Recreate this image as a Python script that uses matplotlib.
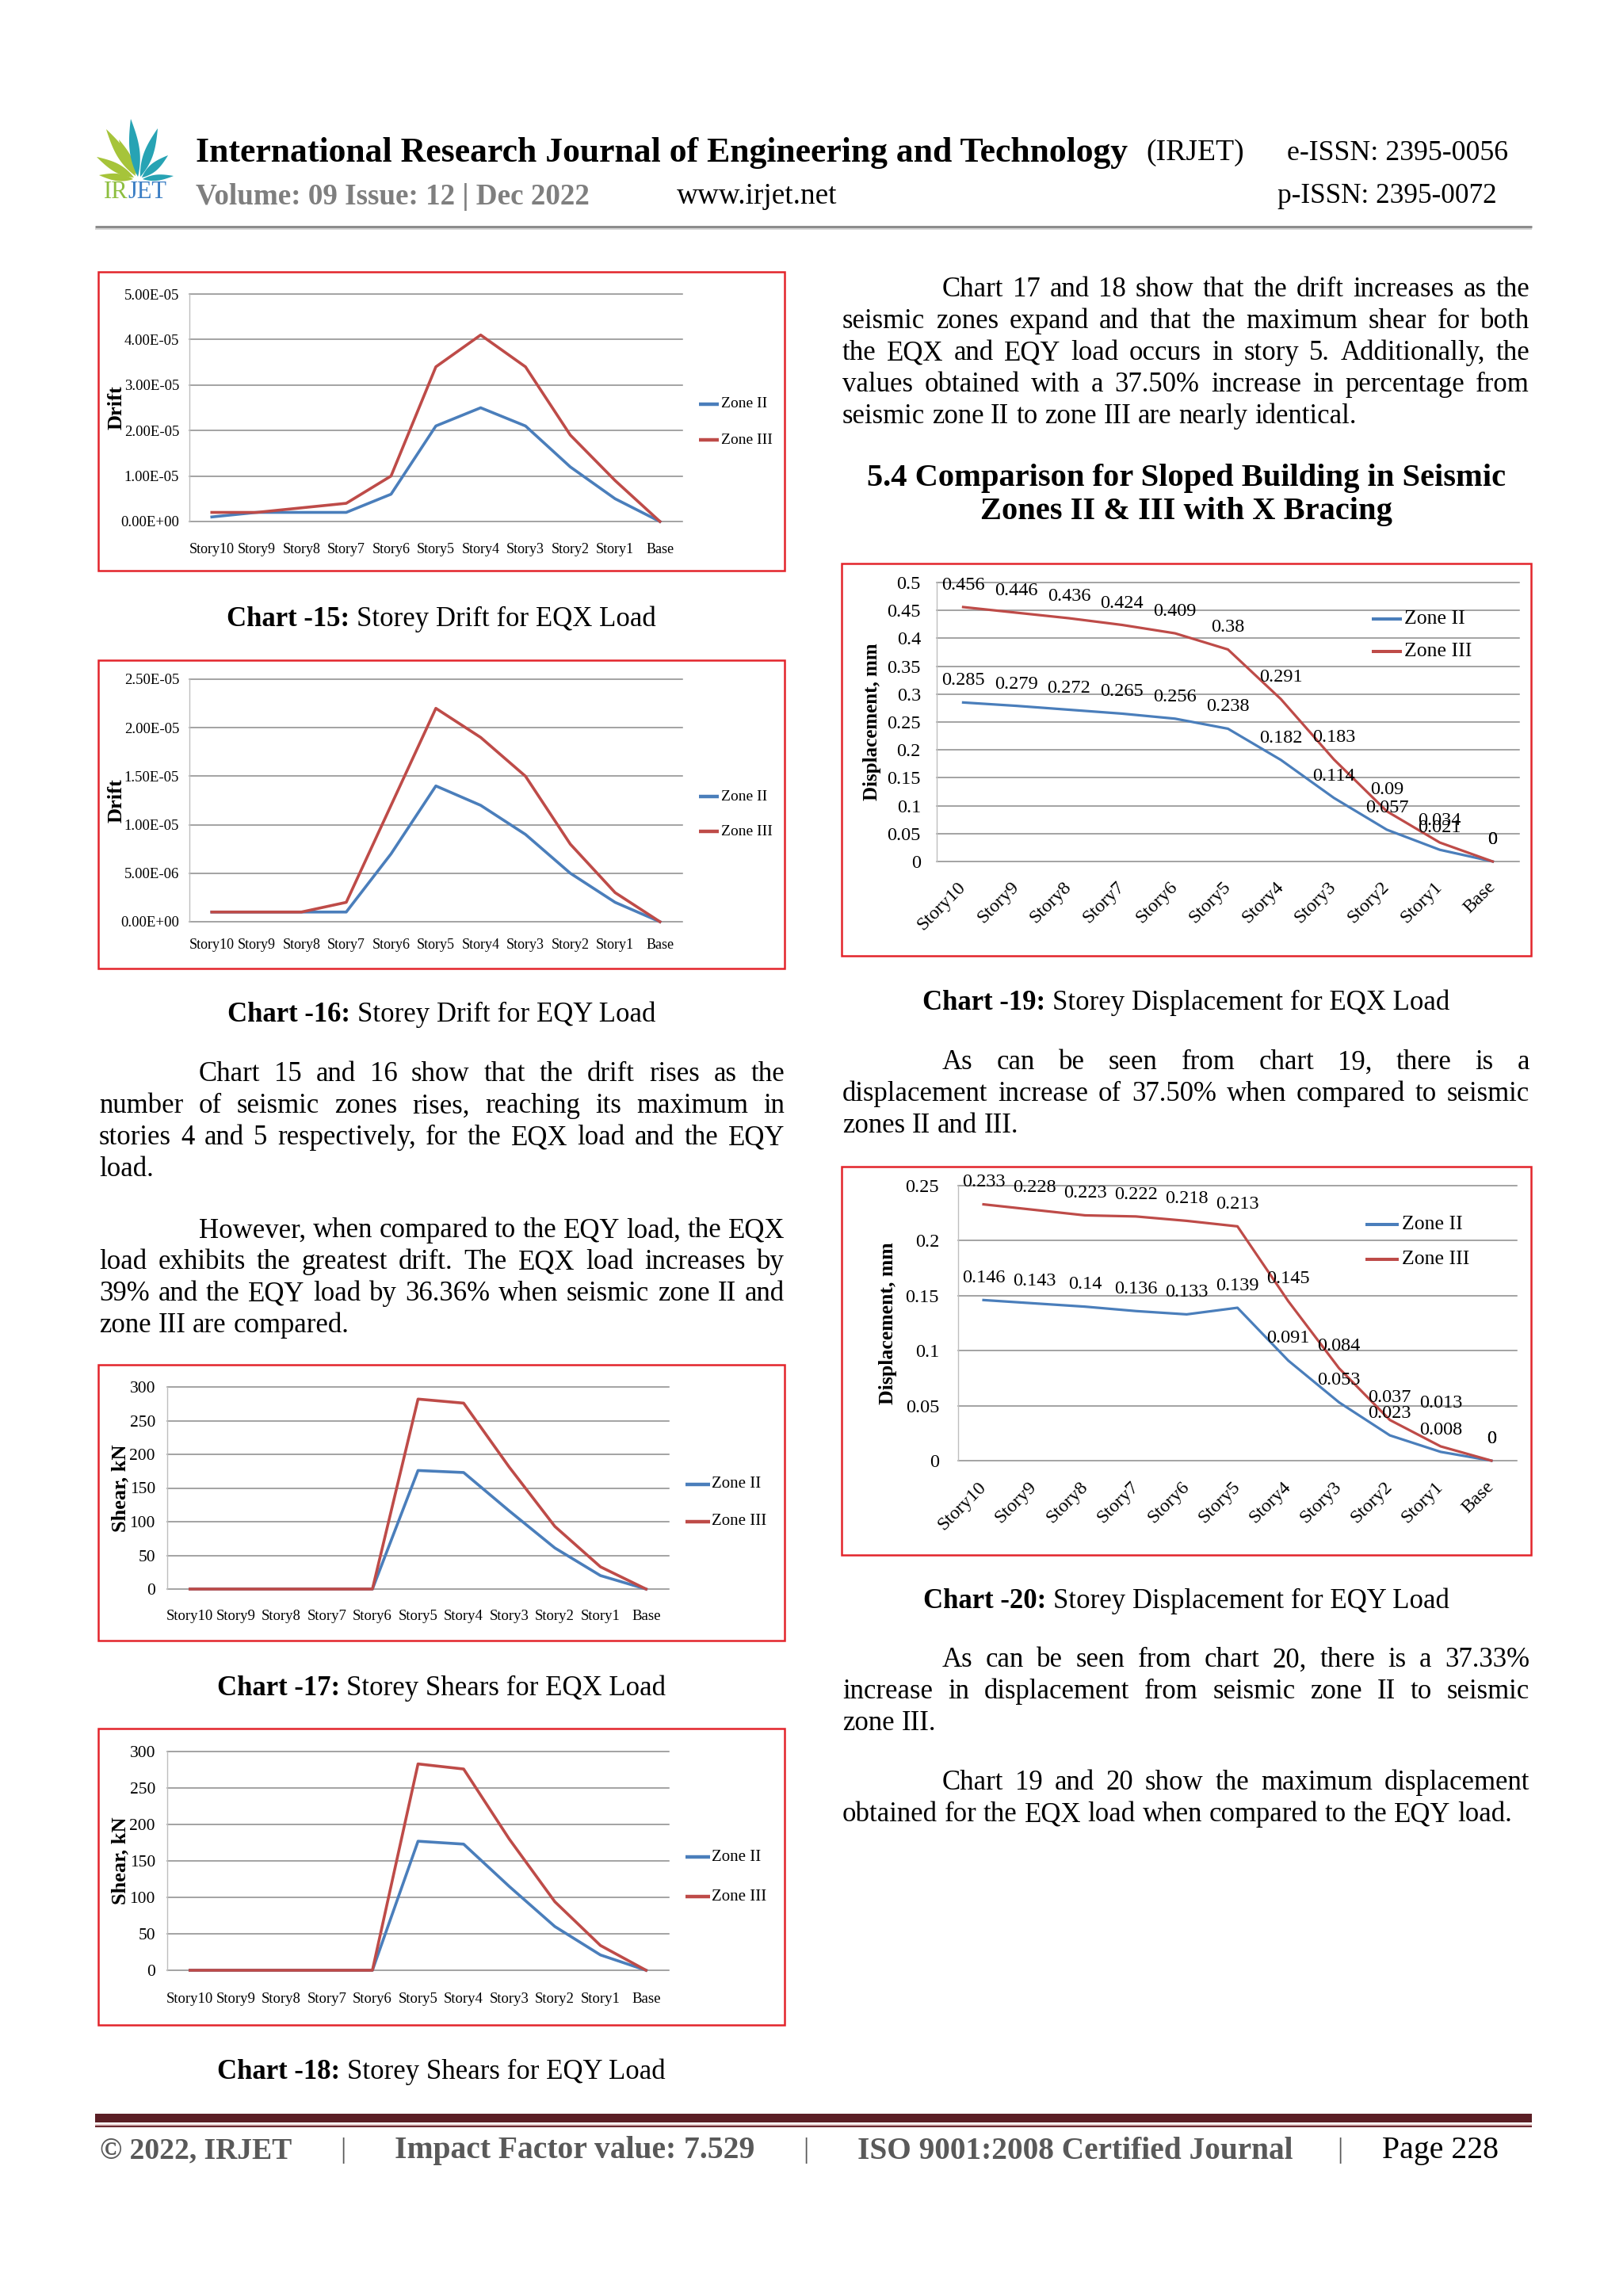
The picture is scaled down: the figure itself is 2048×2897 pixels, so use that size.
import matplotlib
matplotlib.use('Agg')
import matplotlib.pyplot as plt
from matplotlib.lines import Line2D
from matplotlib.patches import Rectangle, Polygon
import numpy as np

# ---------------- data ----------------
stories = ['Story10', 'Story9', 'Story8', 'Story7', 'Story6', 'Story5',
           'Story4', 'Story3', 'Story2', 'Story1', 'Base']
series_names = ['Zone II', 'Zone III']

drift_eqx_zone2 = [1e-6, 2e-6, 2e-6, 2e-6, 6e-6, 2.1e-5, 2.5e-5, 2.1e-5, 1.2e-5, 5e-6, 0]
drift_eqx_zone3 = [2e-6, 2e-6, 3e-6, 4e-6, 1.0e-5, 3.4e-5, 4.1e-5, 3.4e-5, 1.9e-5, 9e-6, 0]
drift_eqy_zone2 = [1e-6, 1e-6, 1e-6, 1e-6, 7e-6, 1.4e-5, 1.2e-5, 9e-6, 5e-6, 2e-6, 0]
drift_eqy_zone3 = [1e-6, 1e-6, 1e-6, 2e-6, 1.2e-5, 2.2e-5, 1.9e-5, 1.5e-5, 8e-6, 3e-6, 0]
shear_eqx_zone2 = [0, 0, 0, 0, 0, 176, 173, 116, 61, 20, 0]
shear_eqx_zone3 = [0, 0, 0, 0, 0, 282, 276, 181, 93, 33, 0]
shear_eqy_zone2 = [0, 0, 0, 0, 0, 177, 173, 115, 60, 21, 0]
shear_eqy_zone3 = [0, 0, 0, 0, 0, 283, 276, 180, 94, 34, 0]
disp_eqx_zone2 = [0.285, 0.279, 0.272, 0.265, 0.256, 0.238, 0.182, 0.114, 0.057, 0.021, 0]
disp_eqx_zone3 = [0.456, 0.446, 0.436, 0.424, 0.409, 0.38, 0.291, 0.183, 0.09, 0.034, 0]
disp_eqy_zone2 = [0.146, 0.143, 0.14, 0.136, 0.133, 0.139, 0.091, 0.053, 0.023, 0.008, 0]
disp_eqy_zone3 = [0.233, 0.228, 0.223, 0.222, 0.218, 0.213, 0.145, 0.084, 0.037, 0.013, 0]

drift_eqx_ticks = [0, 1e-5, 2e-5, 3e-5, 4e-5, 5e-5]
drift_eqy_ticks = [0, 5e-6, 1e-5, 1.5e-5, 2e-5, 2.5e-5]
shear_ticks = [0, 50, 100, 150, 200, 250, 300]
disp_eqx_ticks = [0, 0.05, 0.1, 0.15, 0.2, 0.25, 0.3, 0.35, 0.4, 0.45, 0.5]
disp_eqy_ticks = [0, 0.05, 0.1, 0.15, 0.2, 0.25]

# ---------------- text ----------------
header_title = 'International Research Journal of Engineering and Technology'
header_abbr = '(IRJET)'
header_eissn = 'e-ISSN: 2395-0056'
header_volume = 'Volume: 09 Issue: 12 | Dec 2022'
header_web = 'www.irjet.net'
header_pissn = 'p-ISSN: 2395-0072'

left_p1 = ['Chart 15 and 16 show that the drift rises as the',
           'number of seismic zones rises, reaching its maximum in',
           'stories 4 and 5 respectively, for the EQX load and the EQY',
           'load.']
left_p2 = ['However, when compared to the EQY load, the EQX',
           'load exhibits the greatest drift. The EQX load increases by',
           '39% and the EQY load by 36.36% when seismic zone II and',
           'zone III are compared.']
right_p1 = ['Chart 17 and 18 show that the drift increases as the',
            'seismic zones expand and that the maximum shear for both',
            'the EQX and EQY load occurs in story 5. Additionally, the',
            'values obtained with a 37.50% increase in percentage from',
            'seismic zone II to zone III are nearly identical.']
heading = ['5.4 Comparison for Sloped Building in Seismic',
           'Zones II & III with X Bracing']
right_p2 = ['As can be seen from chart 19, there is a',
            'displacement increase of 37.50% when compared to seismic',
            'zones II and III.']
right_p3 = ['As can be seen from chart 20, there is a 37.33%',
            'increase in displacement from seismic zone II to seismic',
            'zone III.']
right_p4 = ['Chart 19 and 20 show the maximum displacement',
            'obtained for the EQX load when compared to the EQY load.']
captions = [('Chart -15:', 'Storey Drift for EQX Load'),
            ('Chart -16:', 'Storey Drift for EQY Load'),
            ('Chart -17:', 'Storey Shears for EQX Load'),
            ('Chart -18:', 'Storey Shears for EQY Load'),
            ('Chart -19:', 'Storey Displacement for EQX Load'),
            ('Chart -20:', 'Storey Displacement for EQY Load')]
footer = ['\u00a9 2022, IRJET', 'Impact Factor value: 7.529',
          'ISO 9001:2008 Certified Journal', 'Page 228']

# ---------------- setup ----------------
W, H = 2048, 2897
fig = plt.figure(figsize=(W / 100, H / 100), dpi=100)
fig.patch.set_facecolor('white')
R = fig.canvas.get_renderer()
SERIF = ['Liberation Serif', 'DejaVu Serif']
BLUE = '#4A7EBB'
RED = '#BE4B48'
BOXRED = '#E3242B'
GRID = '#8A8A8A'


def fx(x):
    return x / W


def fy(y):
    return 1 - y / H


def ptxt(x, y, s, **kw):
    kw.setdefault('family', SERIF)
    return fig.text(fx(x), fy(y), s, **kw)


def wid(t):
    return t.get_window_extent(renderer=R).width


def fit(x, y, s, target, **kw):
    t = ptxt(x, y, s, fontsize=20, **kw)
    w = wid(t)
    t.set_fontsize(20 * target / w)
    return t


def hline(x0, x1, y, color, lw):
    fig.add_artist(Line2D([fx(x0), fx(x1)], [fy(y), fy(y)], transform=fig.transFigure,
                          color=color, lw=lw, solid_capstyle='butt'))


# ---------------- header ----------------
def leaf(base, tip, width, color):
    b = np.array(base, float)
    t = np.array(tip, float)
    d = t - b
    L = np.hypot(*d)
    u = d / L
    n = np.array([-u[1], u[0]])
    s = np.linspace(0, 1, 30)
    prof = width / 2 * np.sin(np.pi * s) ** 0.9 * (1 - 0.35 * s)
    pts_a = b + np.outer(s * L, u) + np.outer(prof, n)
    pts_b = b + np.outer(s[::-1] * L, u) - np.outer(prof[::-1], n)
    pts = np.vstack([pts_a, pts_b])
    fig.add_artist(Polygon(np.column_stack([fx(pts[:, 0]), fy(pts[:, 1])]),
                           closed=True, transform=fig.transFigure, facecolor=color,
                           edgecolor='none'))


green_leaves = [((171, 222), (134, 163), 15), ((169, 224), (122, 198), 13),
                ((168, 226), (125, 221), 11), ((172, 220), (150, 176), 10)]
teal_leaves = [((174, 223), (165, 150), 15), ((177, 223), (199, 162), 14),
               ((179, 224), (212, 196), 12), ((180, 226), (219, 222), 9)]
for b_, t_, w_ in green_leaves:
    leaf(b_, t_, w_, '#A6C43A')
for b_, t_, w_ in teal_leaves:
    leaf(b_, t_, w_, '#27A3B4')
t_ir = ptxt(131, 242, 'IR', fontsize=22, color='#8DBE3F', va='center')
t_jet = ptxt(131 + wid(t_ir), 242, 'JET', fontsize=22, color='#3B7EC4', va='center')

fit(247, 193, header_title, 1177, weight='bold', va='center')
fit(1446, 193, header_abbr, 124, va='center')
fit(1624, 193, header_eissn, 279, va='center')
fit(247, 248, header_volume, 498, weight='bold', color='#7F7F7F', va='center')
fit(854, 248, header_web, 202, va='center')
fit(1612, 248, header_pissn, 277, va='center')
hline(120, 1933, 286, '#8C8C8C', 2.2)
hline(120, 1933, 289, '#D0D0D0', 1.2)

# ---------------- body text ----------------
all_lines = left_p1 + left_p2 + right_p1 + right_p2 + right_p3 + right_p4
probe = {}
for ln in all_lines:
    ws = []
    for w_ in ln.split(' '):
        t = ptxt(0, 0, w_, fontsize=20)
        ws.append(wid(t))
        t.remove()
    probe[ln] = ws
COLW = 866
size_lim = min(COLW / (sum(ws) / 20 + (len(ws) - 1) * 0.22 * 100 / 72) for ws in probe.values())
BODY = min(25.0, size_lim)
BODY_PX = BODY * 100 / 72


def paragraph(lines, x0, x1, ys, indent=126):
    for i, (ln, y) in enumerate(zip(lines, ys)):
        words = ln.split(' ')
        start = x0 + (indent if i == 0 else 0)
        yb = y + 0.33 * BODY_PX
        ts = [ptxt(0, yb, w_, fontsize=BODY, va='baseline') for w_ in words]
        ws = [wid(t) for t in ts]
        if i == len(lines) - 1 or len(words) == 1:
            gap = 0.25 * BODY_PX
        else:
            gap = (x1 - start - sum(ws)) / (len(words) - 1)
        x = start
        for t, w_ in zip(ts, ws):
            t.set_x(fx(x))
            x += w_ + gap


LX0, LX1 = 125, 990
RX0, RX1 = 1063, 1930
paragraph(left_p1, LX0, LX1, [1353, 1393, 1433, 1473])
paragraph(left_p2, LX0, LX1, [1550, 1590, 1630, 1670])
paragraph(right_p1, RX0, RX1, [363, 403, 443, 483, 523])
paragraph(right_p2, RX0, RX1, [1338, 1378, 1418])
paragraph(right_p3, RX0, RX1, [2092, 2132, 2172])
paragraph(right_p4, RX0, RX1, [2247, 2287])

h1 = fit(1497, 603, heading[0], 807, weight='bold', ha='center', va='center')
ptxt(1497, 645, heading[1], fontsize=h1.get_fontsize(), weight='bold', ha='center', va='center')


def caption(cx, y, cap):
    bold, rest = cap
    yb = y + 0.33 * BODY_PX
    t1 = ptxt(0, yb, bold, fontsize=BODY, weight='bold', va='baseline')
    t2 = ptxt(0, yb, rest, fontsize=BODY, va='baseline')
    w1, w2 = wid(t1), wid(t2)
    gap = 0.25 * BODY_PX
    x = cx - (w1 + gap + w2) / 2
    t1.set_x(fx(x))
    t2.set_x(fx(x + w1 + gap))


for (cx, y), cap in zip([(557, 779), (557, 1278), (557, 2128), (557, 2612),
                         (1497, 1263), (1497, 2018)], captions):
    caption(cx, y, cap)


# ---------------- charts ----------------
def chart(box, area, z2, z3, ticks, fmt, ylabel, ylab_x, ylab_fs, fs_y, fs_x, ypad_px,
          xpad_px, leg_x, leg_text_x, leg_ys, lw, fs_leg, rotate=False, labels=False,
          lab_off=20, lab_bump=None):
    fig.add_artist(Rectangle((fx(box[0]), fy(box[3])), (box[2] - box[0]) / W,
                             (box[3] - box[1]) / H, transform=fig.transFigure,
                             fill=False, edgecolor=BOXRED, lw=1.8))
    ax = fig.add_axes([fx(area[0]), fy(area[3]), (area[2] - area[0]) / W,
                       (area[3] - area[1]) / H])
    ax.set_facecolor('none')
    x = np.arange(len(stories))
    ax.plot(x, z2, color=BLUE, lw=lw, clip_on=False, solid_joinstyle='round')
    ax.plot(x, z3, color=RED, lw=lw, clip_on=False, solid_joinstyle='round')
    ax.set_xlim(-0.5, len(stories) - 0.5)
    ax.set_ylim(0, ticks[-1])
    ax.set_yticks(ticks)
    ax.set_yticklabels([fmt(v) for v in ticks], family=SERIF, fontsize=fs_y)
    ax.set_xticks(x)
    ax.set_xticklabels(stories, family=SERIF, fontsize=fs_x)
    ax.tick_params(length=0)
    ax.tick_params(axis='y', pad=ypad_px * 0.72)
    ax.tick_params(axis='x', pad=xpad_px * 0.72)
    if rotate:
        for t in ax.get_xticklabels():
            t.set_rotation(45)
            t.set_ha('right')
            t.set_va('center')
            t.set_rotation_mode('anchor')
    ax.grid(axis='y', color=GRID, lw=1.1)
    for gl in ax.get_ygridlines():
        gl.set_clip_on(False)
    ax.set_axisbelow(True)
    for s in ['top', 'right', 'bottom']:
        ax.spines[s].set_visible(False)
    ax.spines['left'].set_color('#BFBFBF')
    ax.spines['left'].set_linewidth(1.0)
    ptxt(ylab_x, (area[1] + area[3]) / 2, ylabel, fontsize=ylab_fs, weight='bold',
         rotation=90, ha='center', va='center')
    if labels:
        for k, vals in enumerate([z2, z3]):
            for i, v in enumerate(vals):
                off = lab_off + (lab_bump or {}).get((k, i), 0)
                ax.annotate(f'{v:g}', (i, v), xytext=(0, off), textcoords='offset points',
                            ha='center', va='center', family=SERIF, fontsize=fs_y,
                            annotation_clip=False)
    for name, col, y in zip(series_names, [BLUE, RED], leg_ys):
        hline(leg_x[0], leg_x[1], y, col, lw + 0.6)
        ptxt(leg_text_x, y, name, fontsize=fs_leg, va='center')
    return ax


chart((124, 343, 990, 720), (239, 371, 861, 658), drift_eqx_zone2, drift_eqx_zone3,
      drift_eqx_ticks, lambda v: f'{v:.2E}', 'Drift', 147, 19, 13.5, 13, 13, 27,
      (882, 907), 910, (510, 555), 2.6, 14)
chart((124, 833, 990, 1222), (239, 857, 861, 1163), drift_eqy_zone2, drift_eqy_zone3,
      drift_eqy_ticks, lambda v: f'{v:.2E}', 'Drift', 147, 19, 13.5, 13, 13, 21,
      (882, 907), 910, (1005, 1049), 2.6, 14)
chart((124, 1722, 990, 2070), (211, 1750, 844, 2005), shear_eqx_zone2, shear_eqx_zone3,
      shear_ticks, lambda v: f'{v:g}', 'Shear, kN', 152, 19, 15.5, 13.5, 15, 26,
      (865, 896), 898, (1873, 1920), 2.6, 15)
chart((124, 2181, 990, 2555), (211, 2210, 844, 2486), shear_eqy_zone2, shear_eqy_zone3,
      shear_ticks, lambda v: f'{v:g}', 'Shear, kN', 152, 19, 15.5, 13.5, 15, 28,
      (865, 896), 898, (2343, 2393), 2.6, 15)
chart((1062, 711, 1932, 1206), (1182, 735, 1917, 1087), disp_eqx_zone2, disp_eqx_zone3,
      disp_eqx_ticks, lambda v: f'{v:g}', 'Displacement, mm', 1100, 18, 17.5, 17.5, 20, 29,
      (1731, 1769), 1772, (781, 822), 2.3, 18.5, rotate=True, labels=True, lab_off=19.8)
chart((1062, 1472, 1932, 1962), (1209, 1496, 1914, 1843), disp_eqy_zone2, disp_eqy_zone3,
      disp_eqy_ticks, lambda v: f'{v:g}', 'Displacement, mm', 1121, 18.5, 17.5, 17.5, 24, 30,
      (1723, 1765), 1769, (1545, 1589), 2.3, 18.5, rotate=True, labels=True, lab_off=20,
      lab_bump={(1, 9): 19.5})

# ---------------- footer ----------------
fig.add_artist(Rectangle((fx(120), fy(2678)), (1933 - 120) / W, 11 / H,
                         transform=fig.transFigure, facecolor='#5B1F25', edgecolor='none'))
hline(120, 1933, 2680.5, '#E8C8C8', 1.2)
hline(120, 1933, 2683, '#6B2A30', 1.6)
fit(126, 2714, footer[0], 242, weight='bold', color='#595959', va='center')
fit(498, 2714, footer[1], 455, weight='bold', color='#595959', va='center')
fit(1082, 2714, footer[2], 550, weight='bold', color='#595959', va='center')
fit(1744, 2714, footer[3], 147, color='black', va='center')
for xp in [433, 1017, 1691]:
    ptxt(xp, 2714, '|', fontsize=26, color='#595959', ha='center', va='center')

fig.savefig('out.png', dpi=100, facecolor='white')
